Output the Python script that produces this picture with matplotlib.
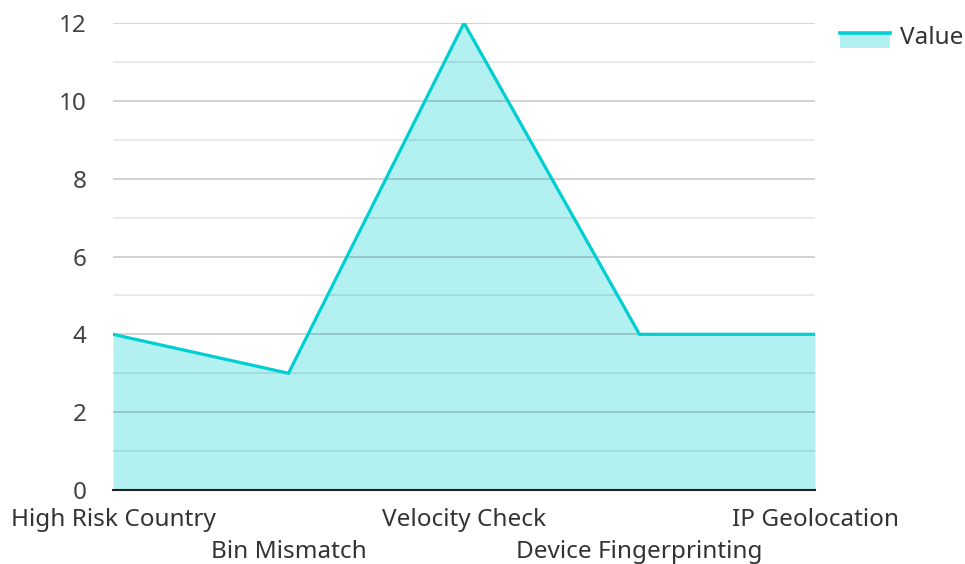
import matplotlib
matplotlib.use("Agg")
import matplotlib.pyplot as plt
from matplotlib.legend_handler import HandlerBase
from matplotlib.patches import Rectangle
from matplotlib.lines import Line2D
import matplotlib.transforms as mtransforms

categories = ["High Risk Country", "Bin Mismatch", "Velocity Check", "Device Fingerprinting", "IP Geolocation"]
values = [4, 3, 12, 4, 4]
yticks = [0, 2, 4, 6, 8, 10, 12]
series_name = "Value"

plt.rcParams['font.family'] = ['Noto Sans', 'DejaVu Sans']

line_color = "#00CED1"
fill_color = "#B2F0F1"
fs = 17.5

fig = plt.figure(figsize=(9.65, 5.64), dpi=100)
ax = fig.add_axes([113/965, 1-490/564, (815-113)/965, (490-23)/564])

x = list(range(len(categories)))
ax.fill_between(x, values, 0, color=fill_color, linewidth=0, zorder=1)
ax.plot(x, values, color=line_color, linewidth=2.3, zorder=3, solid_joinstyle='miter')

ax.set_xlim(0, len(categories)-1)
ax.set_ylim(0, 12)
ax.set_yticks(yticks)
ax.set_yticks([1, 3, 5, 7, 9, 11], minor=True)
ax.set_axisbelow(False)
ax.grid(axis='y', which='major', color='#000000', alpha=0.2, linewidth=1.2, zorder=2)
ax.grid(axis='y', which='minor', color='#000000', alpha=0.1, linewidth=1.2, zorder=2)
ax.tick_params(axis='y', which='both', length=0, labelsize=fs, labelcolor='#444444', pad=19)
ax.tick_params(axis='x', length=0)
ax.set_xticks(x)
ax.set_xticklabels([])
for s in ['left', 'right', 'top']:
    ax.spines[s].set_visible(False)
ax.spines['bottom'].set_color('#222222')
ax.spines['bottom'].set_linewidth(1.5)
ax.spines['bottom'].set_zorder(4)

trans = mtransforms.blended_transform_factory(ax.transData, ax.transAxes)
for i, c in enumerate(categories):
    yoff = -30/467 if i % 2 == 0 else -62/467
    ax.text(i, yoff, c, transform=trans, ha='center', va='center', fontsize=fs, color='#333333')

SHIFT = 3.6  # points, move handle down relative to text


class AreaHandler(HandlerBase):
    def create_artists(self, legend, orig_handle, xdescent, ydescent, width, height, fontsize, trans):
        y0 = -ydescent - SHIFT
        r = Rectangle((-xdescent, y0), width, height, facecolor=fill_color, edgecolor='none', transform=trans)
        l = Line2D([-xdescent, -xdescent + width], [y0 + height, y0 + height],
                   color=line_color, linewidth=2.6, transform=trans)
        return [r, l]

handle = Rectangle((0, 0), 1, 1)
fs_px = fs * 100 / 72
leg = fig.legend([handle], [series_name], handler_map={Rectangle: AreaHandler()},
                 loc='center left', bbox_to_anchor=(840/965, 1-38/564), frameon=False,
                 fontsize=fs, handlelength=50/fs_px, handleheight=13/fs_px, handletextpad=10/fs_px,
                 borderpad=0, borderaxespad=0)
for t in leg.get_texts():
    t.set_color('#333333')

fig.savefig("out.png", dpi=100)
